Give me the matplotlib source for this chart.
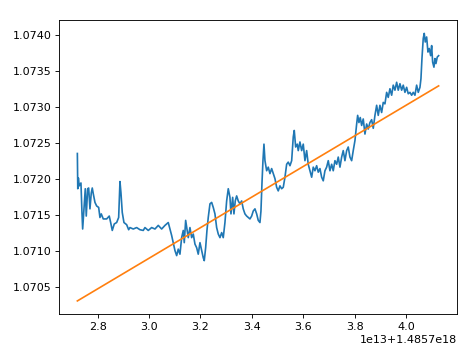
import matplotlib
matplotlib.use("Agg")
import matplotlib.pyplot as plt
import numpy as np

# time in units of 1e13 ns, offset 1.4857e18 ns
OFFSET = 1.4857e18
SCALE = 1e13

t_units = [
    2.7210, 2.7226, 2.7249, 2.7284, 2.7350, 2.7389, 2.7416, 2.7467, 2.7518, 2.7556,
    2.7611, 2.7650, 2.7700, 2.7751, 2.7790, 2.7829, 2.7895, 2.7961, 2.8039, 2.8089,
    2.8140, 2.8218, 2.8350, 2.8451, 2.8506, 2.8568, 2.8646, 2.8739, 2.8817, 2.8868,
    2.8907, 2.8957, 2.9023, 2.9128, 2.9206, 2.9257, 2.9385, 2.9517, 2.9646, 2.9774,
    2.9840, 2.9969, 3.0101, 3.0230, 3.0358, 3.0490, 3.0619, 3.0747, 3.0813, 3.0879,
    3.0942, 3.1008, 3.1074, 3.1136, 3.1202, 3.1268, 3.1331, 3.1370, 3.1424, 3.1475,
    3.1525, 3.1591, 3.1658, 3.1720, 3.1786, 3.1852, 3.1914, 3.1981, 3.2047, 3.2109,
    3.2148, 3.2202, 3.2253, 3.2303, 3.2370, 3.2436, 3.2498, 3.2564, 3.2630, 3.2693,
    3.2759, 3.2825, 3.2887, 3.2953, 3.3019, 3.3082, 3.3148, 3.3187, 3.3253, 3.3303,
    3.3354, 3.3408, 3.3471, 3.3537, 3.3603, 3.3665, 3.3731, 3.3798, 3.3860, 3.3926,
    3.3992, 3.4054, 3.4121, 3.4187, 3.4249, 3.4315, 3.4354, 3.4393, 3.4432, 3.4471,
    3.4510, 3.4576, 3.4638, 3.4704, 3.4770, 3.4833, 3.4899, 3.4965, 3.5027, 3.5093,
    3.5159, 3.5222, 3.5288, 3.5354, 3.5416, 3.5483, 3.5549, 3.5611, 3.5650, 3.5704,
    3.5767, 3.5805, 3.5871, 3.5938, 3.6000, 3.6066, 3.6132, 3.6194, 3.6261, 3.6327,
    3.6389, 3.6455, 3.6521, 3.6584, 3.6650, 3.6716, 3.6778, 3.6844, 3.6910, 3.6973,
    3.7039, 3.7105, 3.7167, 3.7233, 3.7300, 3.7362, 3.7428, 3.7494, 3.7556, 3.7622,
    3.7689, 3.7751, 3.7817, 3.7883, 3.7945, 3.8012, 3.8078, 3.8117, 3.8167, 3.8218,
    3.8272, 3.8334, 3.8401, 3.8467, 3.8529, 3.8595, 3.8661, 3.8724, 3.8790, 3.8856,
    3.8918, 3.8984, 3.9050, 3.9113, 3.9179, 3.9245, 3.9307, 3.9373, 3.9440, 3.9502,
    3.9568, 3.9634, 3.9696, 3.9763, 3.9829, 3.9891, 3.9957, 4.0023, 4.0085, 4.0152,
    4.0218, 4.0280, 4.0346, 4.0412, 4.0475, 4.0541, 4.0580, 4.0619, 4.0669, 4.0708,
    4.0747, 4.0801, 4.0852, 4.0903, 4.0957, 4.0996, 4.1035, 4.1085, 4.1124, 4.1163,
    4.1214, 4.1268,
]

price = [
    1.07235, 1.07186, 1.07201, 1.07190, 1.07194, 1.07153, 1.07130, 1.07158, 1.07186, 1.07148,
    1.07186, 1.07187, 1.07158, 1.07180, 1.07187, 1.07179, 1.07167, 1.07162, 1.07160, 1.07146,
    1.07151, 1.07144, 1.07144, 1.07148, 1.07139, 1.07128, 1.07137, 1.07139, 1.07146, 1.07196,
    1.07180, 1.07153, 1.07139, 1.07136, 1.07129, 1.07132, 1.07130, 1.07132, 1.07129, 1.07128,
    1.07132, 1.07128, 1.07132, 1.07130, 1.07135, 1.07130, 1.07135, 1.07139, 1.07130, 1.07121,
    1.07111, 1.07100, 1.07093, 1.07102, 1.07095, 1.07118, 1.07128, 1.07111, 1.07142, 1.07130,
    1.07118, 1.07132, 1.07118, 1.07123, 1.07109, 1.07104, 1.07095, 1.07111, 1.07100, 1.07090,
    1.07086, 1.07104, 1.07128, 1.07146, 1.07165, 1.07167, 1.07160, 1.07151, 1.07132, 1.07123,
    1.07118, 1.07125, 1.07118, 1.07139, 1.07169, 1.07186, 1.07174, 1.07151, 1.07174, 1.07151,
    1.07169, 1.07176, 1.07169, 1.07165, 1.07169, 1.07158, 1.07151, 1.07148, 1.07146, 1.07144,
    1.07148, 1.07155, 1.07158, 1.07151, 1.07142, 1.07139, 1.07155, 1.07193, 1.07225, 1.07248,
    1.07225, 1.07211, 1.07216, 1.07207, 1.07214, 1.07207, 1.07200, 1.07188, 1.07183, 1.07190,
    1.07186, 1.07188, 1.07202, 1.07220, 1.07223, 1.07218, 1.07225, 1.07258, 1.07267, 1.07244,
    1.07248, 1.07239, 1.07251, 1.07239, 1.07248, 1.07225, 1.07239, 1.07220, 1.07211, 1.07202,
    1.07216, 1.07211, 1.07218, 1.07209, 1.07214, 1.07202, 1.07197, 1.07211, 1.07216, 1.07225,
    1.07211, 1.07220, 1.07211, 1.07225, 1.07220, 1.07230, 1.07216, 1.07230, 1.07239, 1.07225,
    1.07239, 1.07244, 1.07230, 1.07225, 1.07239, 1.07253, 1.07276, 1.07288, 1.07278, 1.07285,
    1.07274, 1.07283, 1.07262, 1.07276, 1.07269, 1.07278, 1.07282, 1.07270, 1.07288, 1.07302,
    1.07288, 1.07302, 1.07292, 1.07306, 1.07304, 1.07320, 1.07313, 1.07325, 1.07316, 1.07330,
    1.07323, 1.07334, 1.07323, 1.07332, 1.07323, 1.07330, 1.07320, 1.07327, 1.07318, 1.07320,
    1.07316, 1.07320, 1.07316, 1.07330, 1.07320, 1.07327, 1.07339, 1.07367, 1.07395, 1.07402,
    1.07390, 1.07397, 1.07376, 1.07381, 1.07371, 1.07385, 1.07362, 1.07355, 1.07367, 1.07360,
    1.07369, 1.07371,
]

# linear trend end points (time in 1e13 ns units, price)
trend_t = [2.7210, 4.1268]
trend_price = [1.07030, 1.07329]

x = OFFSET + np.array(t_units) * SCALE
xt = OFFSET + np.array(trend_t) * SCALE

fig = plt.figure(figsize=(474 / 80, 357 / 80), dpi=80)
ax = fig.add_axes([0.1251, 0.1196, 0.8384, 0.8244])
ax.plot(x, price, color="#1f77b4", lw=1.5)
ax.plot(xt, trend_price, color="#ff7f0e", lw=1.5)

fig.savefig("out.png", dpi=80)
